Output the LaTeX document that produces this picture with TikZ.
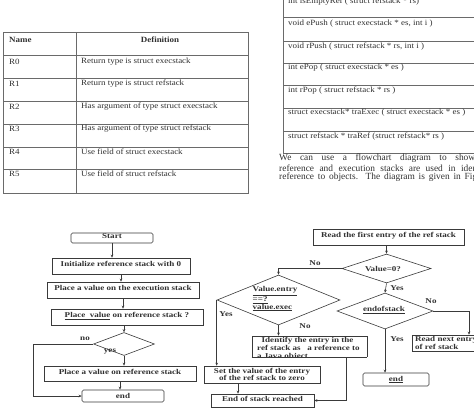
\documentclass[tikz,border=0pt]{standalone}
\usepackage{fontspec}
\usepackage{graphicx}
\setmainfont{Liberation Serif}
\newfontfamily\fcfam{Liberation Serif}[FakeStretch=1.22]
\usetikzlibrary{shapes.geometric,arrows.meta,calc}
\definecolor{lc}{HTML}{3A3A3A}
\definecolor{tl}{HTML}{6A6A6A}
\definecolor{tx}{HTML}{303030}
\newcommand\fcf{\fcfam\fontsize{7.4}{7.6}\selectfont\bfseries}
\newcommand\tabf{\fontsize{8}{9}\selectfont}
\newcommand\parf{\fontsize{9.4}{10}\selectfont}
\newcommand\tsx[1]{\scalebox{1.12}[1]{#1}}
\begin{document}
\begin{tikzpicture}[x=1pt,y=-1pt,
  box/.style={draw=lc,line width=0.6pt,inner sep=0pt,font=\fcf,text=tx,align=center},
  up/.style={text height=5pt,text depth=3.5pt},
  rbox/.style={box,rounded corners=1.5pt},
  dia/.style={draw=lc,line width=0.6pt,diamond,inner sep=0pt},
  lab/.style={inner sep=0pt,font=\fcf,text=tx,align=center},
  tcell/.style={anchor=west,inner sep=0pt,font=\tabf,text=tx},
  tline/.style={draw=tl,line width=0.6pt},
  arr/.style={draw=lc,line width=0.6pt,-{Stealth[length=3pt,width=2.6pt]}},
  con/.style={draw=lc,line width=0.6pt}]
\useasboundingbox (0,0) rectangle (474,418);
\clip (0,0) rectangle (474,418);

% ---------------- left table ----------------
\draw[tline] (3,32) rectangle (248,193);
\draw[tline] (76,32) -- (76,193);
\foreach \y in {55,78,101,124,147,169} \draw[tline] (3,\y) -- (248,\y);
\node[tcell,font=\tabf\bfseries] (hname) at (9,40) {\tsx{Name}};
\node[inner sep=0pt,font=\tabf\bfseries,text=tx] (hdef) at (160,40) {\tsx{Definition}};
\node[tcell] (r0) at (9,62) {\tsx{R0}};
\node[tcell] (d0) at (81,62) {\tsx{Return type is struct execstack}};
\node[tcell] (r1) at (9,84) {\tsx{R1}};
\node[tcell] (d1t) at (81,84) {\tsx{Return type is struct refstack}};
\node[tcell] (r2) at (9,107) {\tsx{R2}};
\node[tcell] (d2t) at (81,107) {\tsx{Has argument of type struct execstack}};
\node[tcell] (r3) at (9,129) {\tsx{R3}};
\node[tcell] (d3t) at (81,129) {\tsx{Has argument of type struct refstack}};
\node[tcell] (r4) at (9,152) {\tsx{R4}};
\node[tcell] (d4t) at (81,152) {\tsx{Use field of struct execstack}};
\node[tcell] (r5) at (9,174) {\tsx{R5}};
\node[tcell] (d5t) at (81,174) {\tsx{Use field of struct refstack}};

% ---------------- right table ----------------
\draw[tline] (283,0) -- (283,153);
\foreach \y in {17,41,63,85,108,131,153} \draw[tline] (283,\y) -- (474,\y);
\node[tcell] (f0) at (288,2) {\tsx{int isEmptyRef ( struct refstack * rs)}};
\node[tcell] (f1) at (288,24) {\tsx{void ePush ( struct execstack * es, int i )}};
\node[tcell] (f2) at (288,47) {\tsx{void rPush ( struct refstack * rs, int i )}};
\node[tcell] (f3) at (288,68) {\tsx{int ePop ( struct execstack * es )}};
\node[tcell] (f4) at (288,91) {\tsx{int rPop ( struct refstack * rs )}};
\node[tcell] (f5) at (288,113) {\tsx{struct execstack* traExec ( struct execstack * es )}};
\node[tcell] (f6) at (288,137) {\tsx{struct refstack * traRef (struct refstack* rs )}};

% ---------------- paragraph ----------------
\node[anchor=west,inner sep=0pt,font=\parf,text=tx] (p1) at (279,158) {\makebox[196pt][s]{We can use a flowchart diagram to show}};
\node[anchor=west,inner sep=0pt,font=\parf,text=tx] (p2) at (279,168) {\makebox[198pt][s]{reference and execution stacks are used in iden}};
\node[anchor=west,inner sep=0pt,font=\parf,text=tx] (p3) at (279,177) {\makebox[198pt][s]{reference to objects. The diagram is given in Fig}};

% ---------------- left flowchart ----------------
\node[rbox,up,minimum width=82pt,minimum height=10pt] (start) at (112,238) {Start};
\node[box,up,minimum width=138pt,minimum height=16pt] (init) at (121,266) {Initialize reference stack with 0};
\node[box,up,minimum width=152pt,minimum height=16pt] (exec) at (123,290) {Place a value on the execution stack};
\node[box,up,minimum width=152pt,minimum height=16pt] (refq) at (127,317) {\underline{Place\ \ value} on reference stack ?};
\node[dia,minimum width=61pt,minimum height=23pt] (dq) at (124,344) {};
\node[box,up,minimum width=152pt,minimum height=15pt] (push) at (120,373.5) {Place a value on reference stack};
\node[rbox,minimum width=82pt,minimum height=12pt] (endA) at (123,396) {end};
\node[lab] (lno) at (85,339) {no};
\node[lab] (lyes) at (110,352) {yes};

\draw[arr] (start.south) -- (start.south |- init.north);
\draw[arr] (init.south) -- (init.south |- exec.north);
\draw[arr] (exec.south) -- (exec.south |- refq.north);
\draw[arr] (dq.north |- refq.south) -- (dq.north);
\draw[arr] (dq.south) -- (dq.south |- push.north);
\draw[arr] (push.south) -- (push.south |- endA.north);
\draw[arr] (dq.west) -- ++(-60,0) |- (endA.west);

% ---------------- right flowchart ----------------
\node[box,up,minimum width=151pt,minimum height=16pt] (read1) at (388.5,237) {Read the first entry of the ref stack};
\node[dia,minimum width=89pt,minimum height=29pt] (dv) at (386.5,268.5) {};
\node[lab] (dvt) at (383,269) {Value=0?};
\node[dia,minimum width=123pt,minimum height=50pt] (de) at (278.5,300) {};
\node[lab,align=left] (det) at (275,299) {\underline{Value.entry}\\[0pt]\underline{==?}\\[0pt]\underline{value.exec}};
\node[dia,minimum width=96pt,minimum height=36pt] (dend) at (385,311) {};
\node[lab] (dendt) at (384,310) {\underline{endofstack}};
\node[box,minimum width=115pt,minimum height=21pt] (ident) at (309.5,346.5) {};
\node[lab,align=left,anchor=north west] (identt) at (257,337.5) {\ \ Identify the entry in the\\ref stack as \ \ a reference to\\a Java object};
\fill[white] (250,357.3) rectangle (369,363);
\draw[con] (ident.south west) -- (ident.south east);
\node[box,minimum width=116pt,minimum height=17pt] (setv) at (262,374.5) {Set the value of the entry\\of the ref stack to zero};
\node[box,up,minimum width=103pt,minimum height=13pt] (eosr) at (262.5,400.5) {End of stack reached};
\node[box,minimum width=114pt,minimum height=16pt,text width=108pt,align=left] (rnext) at (469,343) {Read next entry\\of ref stack};
\node[rbox,minimum width=66pt,minimum height=13pt] (endB) at (396,379.5) {\underline{end}};

\node[lab] (lno1) at (315,263) {No};
\node[lab] (lyes1) at (226,314) {Yes};
\node[lab] (lno2) at (305,326) {No};
\node[lab] (lyes2) at (397,288) {Yes};
\node[lab] (lno3) at (431,301) {No};
\node[lab] (lyes3) at (397,339) {Yes};

\draw[arr] (dv.north |- read1.south) -- (dv.north);
\draw[arr] (dv.west) -| (de.north);
\draw[arr] (dv.south) -- (dend.north);
\draw[arr] (dend.east) -| (rnext.north);
\draw[arr] (dend.south) -- (dend.south |- endB.north);
\draw[arr] (de.west) -- (de.west |- setv.north);
\draw[arr] (de.south) -- (de.south |- ident.north);
\draw[arr] ([xshift=-21pt]ident.south east) |- (eosr.east);
\draw[arr] ([xshift=-24pt]setv.south) -- ([xshift=-24pt]setv.south |- eosr.north);
\end{tikzpicture}
\end{document}
